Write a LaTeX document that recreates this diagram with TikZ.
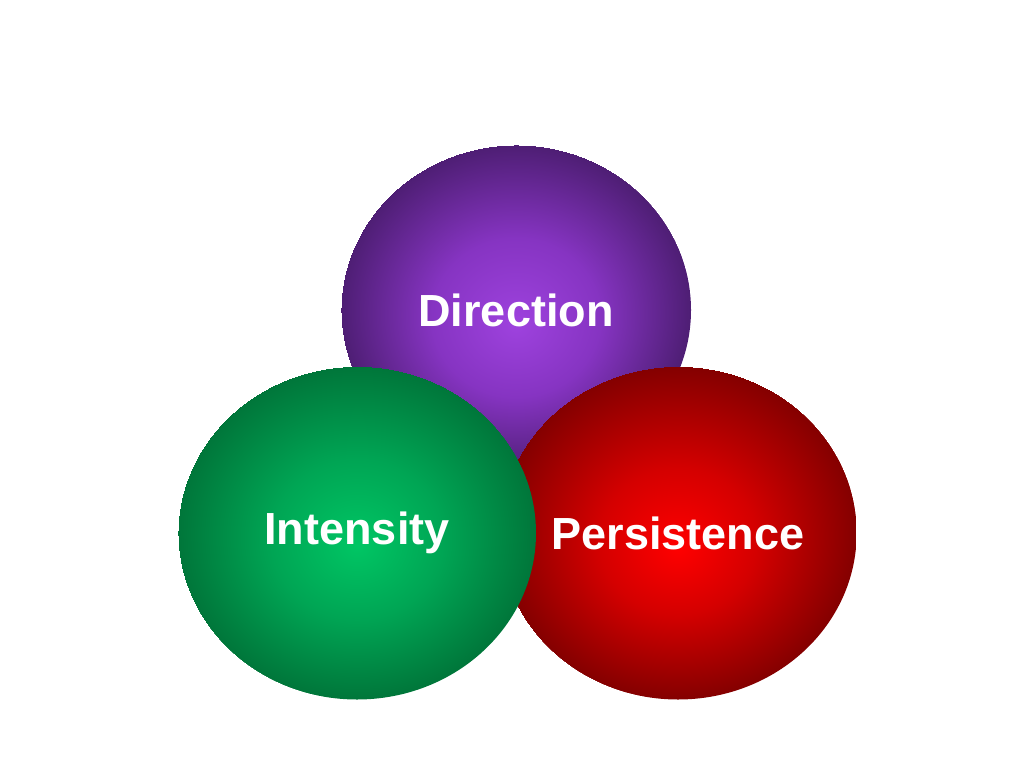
\documentclass[tikz,border=0pt]{standalone}
\usepackage{fontspec}
\setmainfont{Liberation Sans}
\usepackage{tikz}
\usetikzlibrary{shapes.geometric}
\definecolor{violetin}{RGB}{158,66,222}
\definecolor{violetmid}{RGB}{134,52,194}
\definecolor{violetout}{RGB}{78,30,116}
\definecolor{greenin}{RGB}{0,198,100}
\definecolor{greenmid}{RGB}{0,165,84}
\definecolor{greenout}{RGB}{0,118,58}
\definecolor{redin}{RGB}{255,0,0}
\definecolor{redmid}{RGB}{212,0,0}
\definecolor{redout}{RGB}{132,0,0}
\pgfdeclareradialshading{violetball}{\pgfpoint{0bp}{-2.2bp}}{color(0bp)=(violetin); color(12bp)=(violetmid); color(25bp)=(violetout)}
\pgfdeclareradialshading{greenball}{\pgfpoint{0bp}{-1.8bp}}{color(0bp)=(greenin); color(12bp)=(greenmid); color(25bp)=(greenout)}
\pgfdeclareradialshading{redball}{\pgfpoint{0bp}{-2.2bp}}{color(0bp)=(redin); color(11bp)=(redmid); color(25bp)=(redout)}
\tikzstyle{ball} = [ellipse, inner sep=0pt, draw=none, text=white, font=\fontsize{45}{54}\selectfont\bfseries]
\tikzstyle{purplesphere} = [ball, shading=violetball, minimum width=350pt, minimum height=330pt]
\tikzstyle{greensphere} = [ball, shading=greenball, minimum width=358pt, minimum height=333pt]
\tikzstyle{redsphere} = [ball, shading=redball, minimum width=350pt, minimum height=333pt]

\begin{document}
\begin{tikzpicture}[x=1pt,y=-1pt]
\useasboundingbox (0,0) rectangle (1024,768);
\node(direction)[purplesphere] at (516,310) {Direction};
\node(persistence)[redsphere] at (678,533) {Persistence};
\node(intensity)[greensphere] at (357,533) {Intensity};
\end{tikzpicture}
\end{document}
